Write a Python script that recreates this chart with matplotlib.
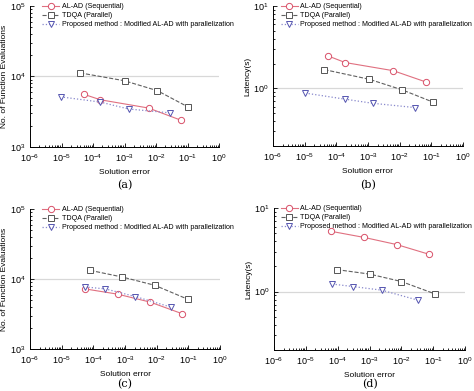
import numpy as np
import matplotlib
matplotlib.use("Agg")
import matplotlib.pyplot as plt
from matplotlib.ticker import LogLocator, NullFormatter

plt.rcParams['font.family'] = ['Liberation Sans', 'DejaVu Sans']
plt.rcParams['mathtext.default'] = 'regular'

labels = ['AL-AD (Sequential)', 'TDQA (Parallel)',
          'Proposed method : Modified AL-AD with parallelization']

# (a) function evaluations, case 1
a_seq_x = [5.1e-5, 1.7e-4, 5.8e-3, 6.0e-2]
a_seq_y = [5600, 4680, 3570, 2410]
a_par_x = [3.9e-5, 1.0e-3, 1.1e-2, 1.05e-1]
a_par_y = [11250, 8700, 6300, 3690]
a_new_x = [9.3e-6, 1.7e-4, 1.35e-3, 2.75e-2]
a_new_y = [5150, 4340, 3460, 3050]

# (b) latency, case 1
b_seq_x = [5.6e-5, 1.9e-4, 6.3e-3, 6.6e-2]
b_seq_y = [2.47, 2.06, 1.64, 1.2]
b_par_x = [4.2e-5, 1.1e-3, 1.2e-2, 1.15e-1]
b_par_y = [1.69, 1.29, 0.96, 0.68]
b_new_x = [1.05e-5, 1.9e-4, 1.4e-3, 3.1e-2]
b_new_y = [0.877, 0.74, 0.66, 0.585]

# (c) function evaluations, case 2
c_seq_x = [5.5e-5, 5.9e-4, 6.2e-3, 6.3e-2]
c_seq_y = [7220, 6070, 4680, 3200]
c_par_x = [8.0e-5, 8.3e-4, 8.7e-3, 1.0e-1]
c_par_y = [13270, 10660, 8130, 5100]
c_new_x = [5.5e-5, 2.4e-4, 2.1e-3, 2.75e-2]
c_new_y = [7700, 7220, 5620, 3980]

# (d) latency, case 2
d_seq_x = [6.4e-5, 6.9e-4, 7.2e-3, 7.5e-2]
d_seq_y = [5.25, 4.44, 3.65, 2.79]
d_par_x = [9.5e-5, 1.0e-3, 1.0e-2, 1.12e-1]
d_par_y = [1.83, 1.62, 1.32, 0.94]
d_new_x = [6.8e-5, 2.96e-4, 2.4e-3, 3.3e-2]
d_new_y = [1.23, 1.15, 1.04, 0.79]

xticks = [1e-6, 1e-5, 1e-4, 1e-3, 1e-2, 1e-1, 1e0]

fig = plt.figure(figsize=(4.74, 3.91), dpi=100)
W, H = 474, 391

def box(l, r, t, b):
    return [l / W, 1 - b / H, (r - l) / W, (b - t) / H]

panels = [
    (box(30, 219, 6, 147), (a_seq_x, a_seq_y, a_par_x, a_par_y, a_new_x, a_new_y),
     (1e3, 1e5), 1e4, 'No. of Function Evaluations', '(a)', 0.05, 185),
    (box(273, 463, 6, 146), (b_seq_x, b_seq_y, b_par_x, b_par_y, b_new_x, b_new_y),
     (0.2, 10), 1.0, 'Latency(s)', '(b)', 0.025, 185),
    (box(30, 220, 209, 349), (c_seq_x, c_seq_y, c_par_x, c_par_y, c_new_x, c_new_y),
     (1e3, 1e5), 1e4, 'No. of Function Evaluations', '(c)', 0.05, 384),
    (box(274, 465, 208, 350), (d_seq_x, d_seq_y, d_par_x, d_par_y, d_new_x, d_new_y),
     (0.2, 10), 1.0, 'Latency(s)', '(d)', 0.02, 384),
]

for rect, data, ylim, ref, ylab, tag, lx, ty in panels:
    ax = fig.add_axes(rect)
    sx, sy, px, py, nx, ny = data
    ax.axhline(ref, color='#d8d8d8', lw=0.9, zorder=0)
    ax.plot(sx, sy, '-', color='#e07080', lw=0.8, marker='o', ms=4.5,
            mfc='white', mec='#d85068', mew=0.7, label=labels[0])
    ax.plot(px, py, '--', color='#606060', lw=0.8, marker='s', ms=4,
            mfc='white', mec='#555555', mew=0.7, label=labels[1])
    ax.plot(nx, ny, ':', color='#8888cc', lw=0.9, marker='v', ms=5,
            mfc='white', mec='#5555b0', mew=0.7, label=labels[2])
    ax.set_xscale('log')
    ax.set_yscale('log')
    ax.set_xlim(1e-6, 1)
    ax.set_ylim(*ylim)
    ax.set_xticks(xticks)
    ax.xaxis.set_minor_locator(LogLocator(base=10, subs=np.arange(2, 10), numticks=20))
    ax.yaxis.set_minor_locator(LogLocator(base=10, subs=np.arange(2, 10), numticks=20))
    ax.xaxis.set_minor_formatter(NullFormatter())
    ax.yaxis.set_minor_formatter(NullFormatter())
    ax.tick_params(which='both', direction='in', labelsize=6.5, width=0.6)
    ax.tick_params(which='major', length=3)
    ax.tick_params(which='minor', length=1.5)
    ax.spines['top'].set_visible(False)
    ax.spines['right'].set_visible(False)
    for s in ('left', 'bottom'):
        ax.spines[s].set_linewidth(0.7)
    ax.set_xlabel('Solution error', fontsize=6, labelpad=4)
    ax.set_ylabel(ylab, fontsize=6, labelpad=1)
    ax.legend(loc='upper left', bbox_to_anchor=(lx, 1.04), frameon=False,
              fontsize=5.1, handlelength=2.4, handletextpad=0.4,
              labelspacing=0.3, borderaxespad=0)
    x0, y0, w, h = rect
    fig.text(x0 + w / 2, 1 - ty / H, tag, ha='center', va='center',
             fontsize=8, family='DejaVu Serif')

fig.savefig('out.png', dpi=100)
